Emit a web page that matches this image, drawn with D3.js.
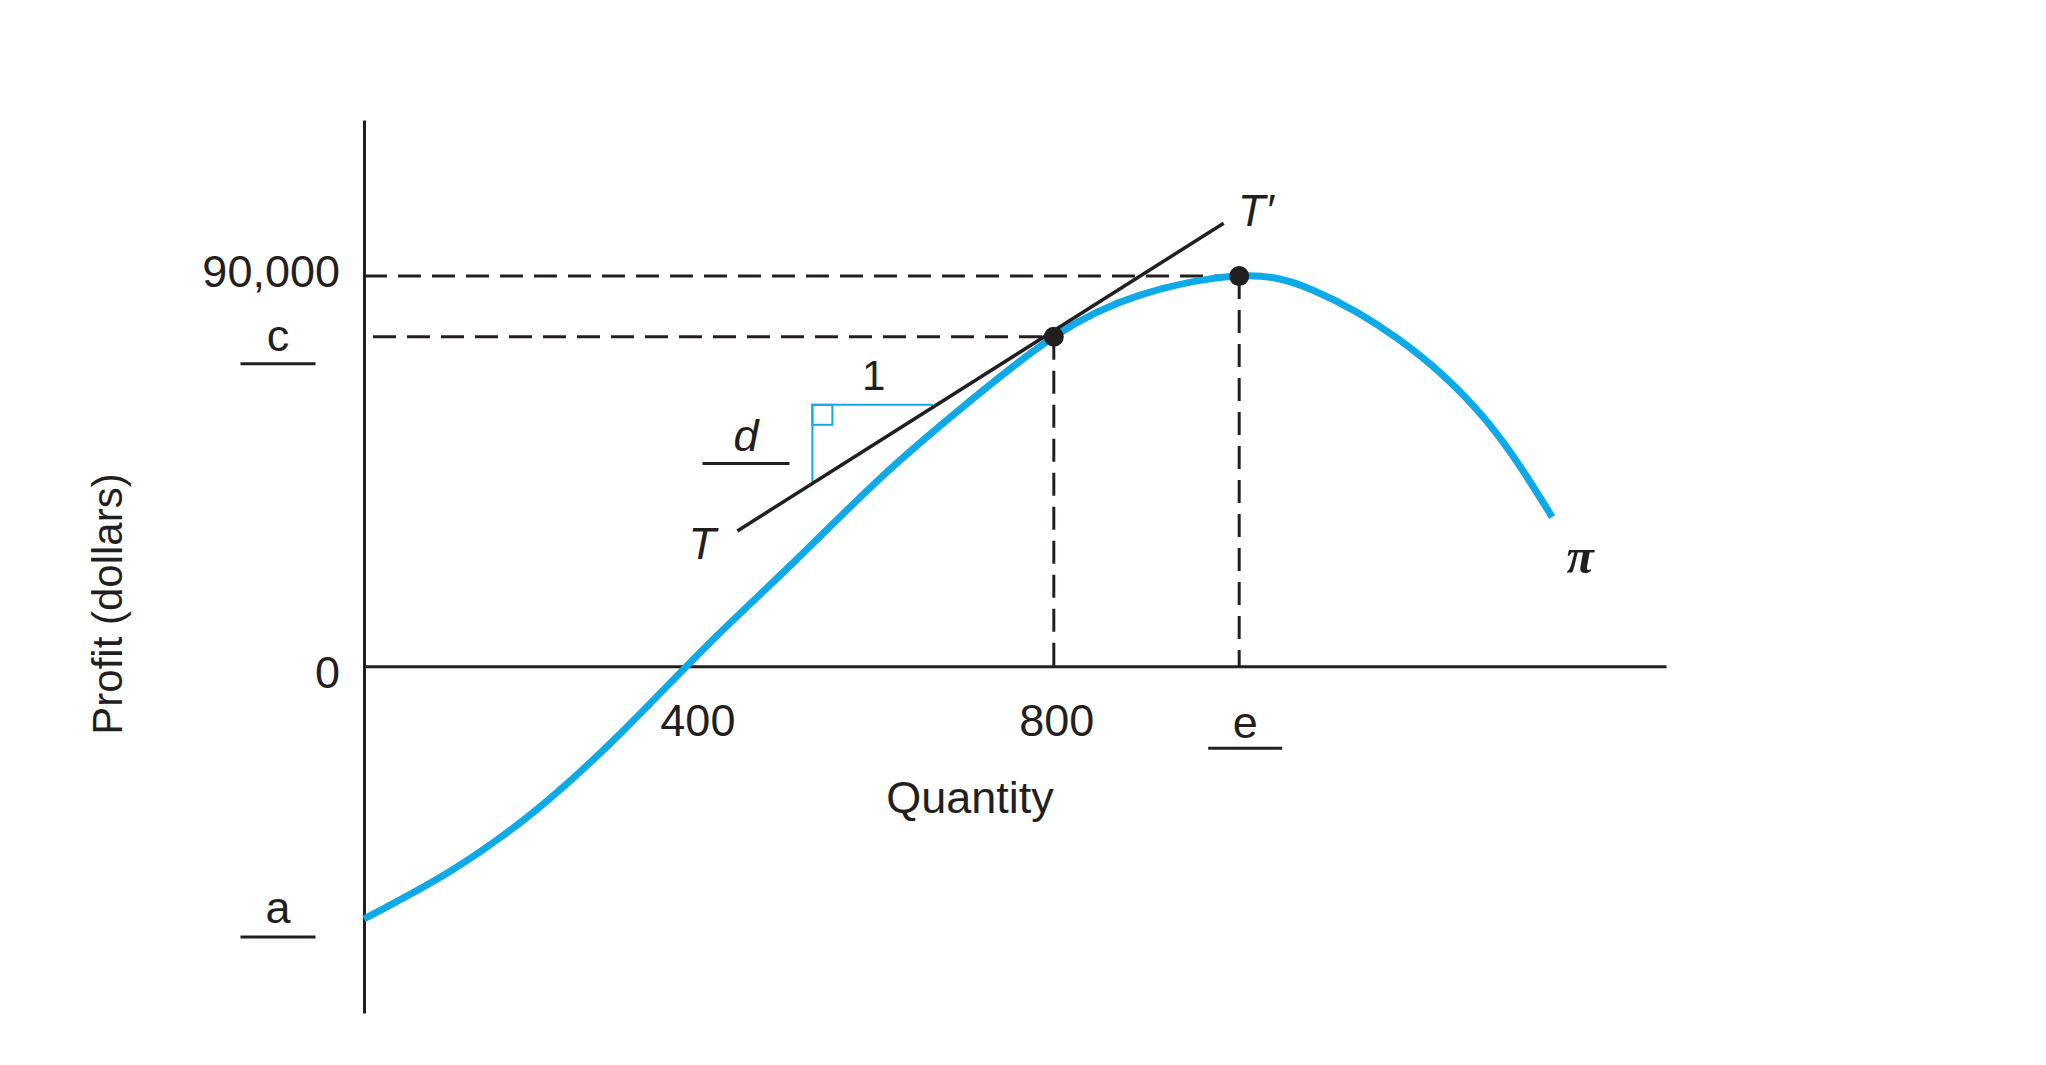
<!DOCTYPE html>
<html>
<head>
<meta charset="utf-8">
<script src="https://cdn.jsdelivr.net/npm/d3@7"></script>
<style>
  body { margin: 0; background: #fff; }
  text { font-family: "Liberation Sans", Arial, sans-serif; fill: #231f20; }
</style>
</head>
<body>
<div id="chart"></div>
<script>
// Profit curve (quantity, dollars).
const quantity = [0, 100, 200, 300, 400, 500, 600, 700, 800, 900, 1015, 1100, 1200, 1300, 1378];
const profit = [-58300, -47300, -33100, -15000, 5200, 24300, 43600, 60700, 76000, 85600,
  90000, 86800, 75400, 57000, 34400];

// Tangent line T-T' at Q = 800, and the slope triangle (run 1, rise d).
const tangentQ = [433, 997];
const tangentProfit = [31200, 102200];
const triangleQ = [520, 660];
const triangleProfit = [42600, 60300];

// Marked points: (800, c) and the maximum (e, 90,000).
const pointQ = [800, 1015];
const pointProfit = [76000, 90000];

const xTicks = [400, 800];
const yTicks = [0, 90000];
const yTickLabels = ['0', '90,000'];

const width = 2046;
const height = 1065;
const blue = '#0eaae8';

const svg = d3.select('#chart')
  .append('svg')
    .attr('width', width)
    .attr('height', height);

const x = d3.scaleLinear().domain([0, 1510]).range([364, 1666]);
const y = d3.scaleLinear().domain([-80000, 126000]).range([1013, 120]);

// axes: bare lines, no ticks
svg.append('g')
  .attr('transform', 'translate(0,' + y(0) + ')')
  .call(d3.axisBottom(x).tickValues([]).tickSizeOuter(0))
  .call(g => g.select('.domain').attr('stroke', '#231f20').attr('stroke-width', 3));

svg.append('g')
  .attr('transform', 'translate(' + x(0) + ',0)')
  .call(d3.axisLeft(y).tickValues([]).tickSizeOuter(0))
  .call(g => g.select('.domain').attr('stroke', '#231f20').attr('stroke-width', 3));

// dashed guides
const guides = svg.append('g')
  .attr('stroke', '#231f20')
  .attr('stroke-width', 3)
  .attr('stroke-dasharray', '23,11')
  .attr('fill', 'none');

pointQ.forEach((q, i) => {
  guides.append('line')
    .attr('x1', x(0)).attr('x2', x(q))
    .attr('y1', y(pointProfit[i])).attr('y2', y(pointProfit[i]))
    .attr('stroke-dashoffset', i == 0 ? -9 : 0);
  guides.append('line')
    .attr('x1', x(q)).attr('x2', x(q))
    .attr('y1', y(pointProfit[i])).attr('y2', y(0));
});

// profit curve
const line = d3.line()
  .x(d => x(d[0]))
  .y(d => y(d[1]))
  .curve(d3.curveNatural);

svg.append('path')
  .datum(quantity.map((q, i) => [q, profit[i]]))
  .attr('fill', 'none')
  .attr('stroke', blue)
  .attr('stroke-width', 7)
  .attr('d', line);

// slope triangle
svg.append('path')
  .attr('fill', 'none')
  .attr('stroke', blue)
  .attr('stroke-width', 2)
  .attr('d', 'M' + x(triangleQ[0]) + ',' + y(triangleProfit[0]) +
    'V' + y(triangleProfit[1]) + 'H' + x(triangleQ[1]));

svg.append('rect')
  .attr('x', x(triangleQ[0]))
  .attr('y', y(triangleProfit[1]))
  .attr('width', 20)
  .attr('height', 20)
  .attr('fill', 'none')
  .attr('stroke', blue)
  .attr('stroke-width', 2);

// tangent
svg.append('line')
  .attr('x1', x(tangentQ[0])).attr('y1', y(tangentProfit[0]))
  .attr('x2', x(tangentQ[1])).attr('y2', y(tangentProfit[1]))
  .attr('stroke', '#231f20')
  .attr('stroke-width', 3.5);

svg.selectAll('circle.pt')
  .data(pointQ)
  .enter()
  .append('circle')
    .attr('class', 'pt')
    .attr('cx', d => x(d))
    .attr('cy', (d, i) => y(pointProfit[i]))
    .attr('r', 10)
    .attr('fill', '#231f20');

// tick labels
svg.selectAll('text.xt')
  .data(xTicks)
  .enter()
  .append('text')
    .attr('class', 'xt')
    .attr('x', d => x(d) + (d == 400 ? -11 : 3))
    .attr('y', y(0) + 70)
    .attr('text-anchor', 'middle')
    .style('font-size', '45px')
    .text(d => d);

svg.selectAll('text.yt')
  .data(yTicks)
  .enter()
  .append('text')
    .attr('class', 'yt')
    .attr('x', x(0) - 24)
    .attr('y', d => y(d) + (d == 0 ? 22 : 11))
    .attr('text-anchor', 'end')
    .style('font-size', '45px')
    .text((d, i) => yTickLabels[i]);

// blank-underlined letters
const blanks = [
  {t: 'c', cx: 278, ty: y(pointProfit[0]) + 14, uy: y(pointProfit[0]) + 27, w: 75},
  {t: 'a', cx: 278, ty: y(profit[0]) + 4, uy: y(profit[0]) + 18, w: 75},
  {t: 'd', cx: 746, ty: y(triangleProfit[0]) - 31, uy: y(triangleProfit[0]) - 18, w: 87},
  {t: 'e', cx: x(pointQ[1]) + 6, ty: y(0) + 72, uy: y(0) + 82, w: 74}
];

blanks.forEach(b => {
  svg.append('text')
    .attr('x', b.cx)
    .attr('y', b.ty)
    .attr('text-anchor', 'middle')
    .style('font-size', '45px')
    .style('font-style', b.t == 'd' ? 'italic' : 'normal')
    .text(b.t);
  svg.append('line')
    .attr('x1', b.cx - b.w / 2).attr('x2', b.cx + b.w / 2)
    .attr('y1', b.uy).attr('y2', b.uy)
    .attr('stroke', '#231f20')
    .attr('stroke-width', 3);
});

svg.append('text')
  .attr('x', (x(triangleQ[0]) + x(triangleQ[1])) / 2 + 1)
  .attr('y', y(triangleProfit[1]) - 15)
  .attr('text-anchor', 'middle')
  .style('font-size', '42px')
  .text('1');

svg.append('text')
  .attr('x', x(tangentQ[0]) - 35)
  .attr('y', y(tangentProfit[0]) + 28)
  .attr('text-anchor', 'middle')
  .style('font-size', '45px')
  .style('font-style', 'italic')
  .text('T');

svg.append('text')
  .attr('x', x(tangentQ[1]) + 32)
  .attr('y', y(tangentProfit[1]) + 3)
  .attr('text-anchor', 'middle')
  .style('font-size', '45px')
  .style('font-style', 'italic')
  .text('T\u2032');

svg.append('text')
  .attr('x', x(quantity[quantity.length - 1]) + 28)
  .attr('y', y(profit[profit.length - 1]) + 56)
  .attr('text-anchor', 'middle')
  .style('font-family', '"Liberation Serif", serif')
  .style('font-size', '50px')
  .style('font-style', 'italic')
  .style('font-weight', 'bold')
  .text('\u03c0');

// axis titles
svg.append('text')
  .attr('x', 970)
  .attr('y', 813)
  .attr('text-anchor', 'middle')
  .style('font-size', '45px')
  .text('Quantity');

svg.append('text')
  .attr('transform', 'translate(122,604) rotate(-90)')
  .attr('text-anchor', 'middle')
  .style('font-size', '42px')
  .text('Profit (dollars)');
</script>
</body>
</html>
